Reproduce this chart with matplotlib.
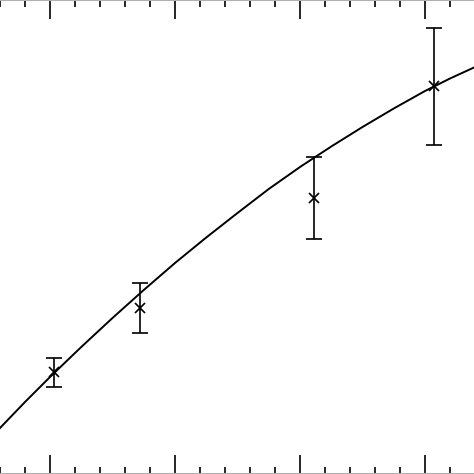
import numpy as np
import matplotlib.pyplot as plt
from matplotlib.ticker import MultipleLocator, NullFormatter

# measured points with symmetric errors
x_pts = [1.028, 1.716, 3.112, 4.072]
y_pts = [1.02, 1.66, 2.76, 3.88]
y_err = [0.145, 0.25, 0.41, 0.585]

# model curve
x_fit = [0.6, 0.8, 1.0, 1.25, 1.5, 1.75, 2.0, 2.25, 2.5, 2.75, 3.0, 3.25, 3.5, 3.75, 4.0, 4.2, 4.392]
y_fit = [0.46, 0.72, 0.97, 1.27, 1.56, 1.84, 2.11, 2.365, 2.61, 2.85, 3.07, 3.275, 3.47, 3.655, 3.83, 3.955, 4.065]

fig = plt.figure(figsize=(4.74, 4.74), dpi=100)
ax = fig.add_axes([0, 0, 1, 1])

ax.plot(x_fit, y_fit, color='black', lw=1.4)
ax.errorbar(x_pts, y_pts, yerr=y_err, fmt='x', color='black', ms=7, mew=1.2,
            ecolor='black', elinewidth=1.2, capsize=5.5, capthick=1.2)

ax.set_xlim(0.6, 4.392)
ax.set_ylim(0, 4.74)

ax.xaxis.set_major_locator(MultipleLocator(1))
ax.xaxis.set_minor_locator(MultipleLocator(0.2))
ax.xaxis.set_major_formatter(NullFormatter())
ax.tick_params(axis='x', which='both', direction='in', top=True, bottom=True, width=1.2)
ax.tick_params(axis='x', which='major', length=14)
ax.tick_params(axis='x', which='minor', length=5)
ax.set_yticks([])

for side in ['left', 'right']:
    ax.spines[side].set_visible(False)
for side in ['top', 'bottom']:
    ax.spines[side].set_color('#b0b0b0')
    ax.spines[side].set_linewidth(1.5)

fig.savefig('out.png', dpi=100)
